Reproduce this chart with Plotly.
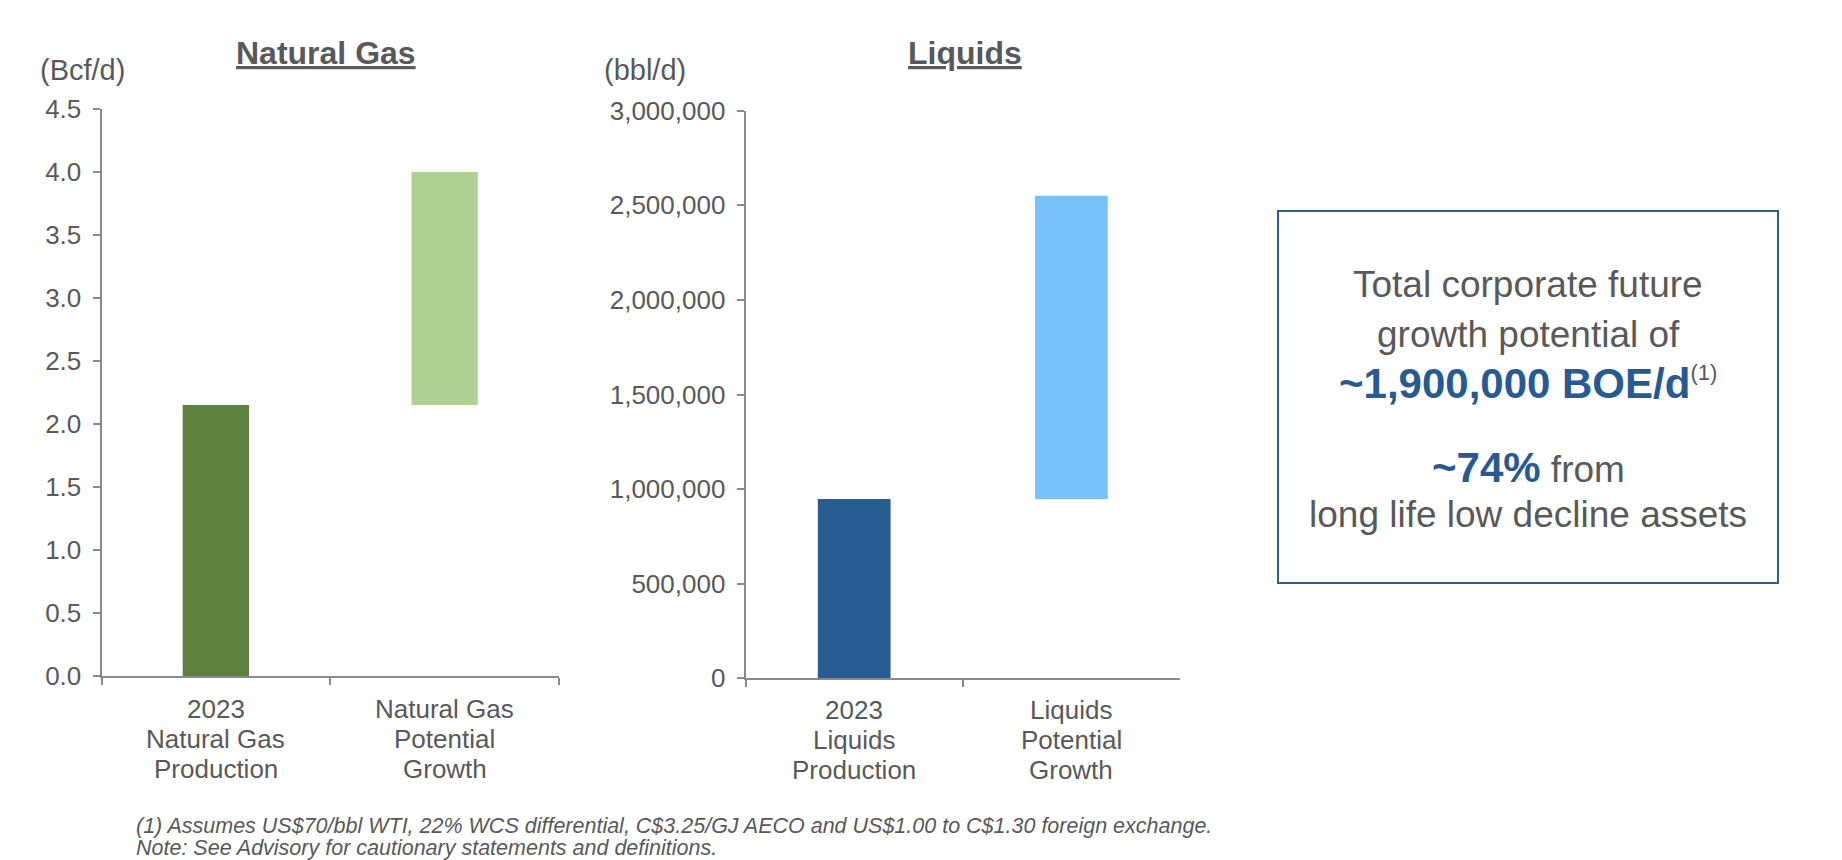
import plotly.graph_objects as go

# ---------------- data ----------------
gas_categories = ["2023<br>Natural Gas<br>Production", "Natural Gas<br>Potential<br>Growth"]
gas_production = 2.15          # Bcf/d (2023)
gas_potential_total = 4.0      # Bcf/d (top of potential growth bar)
gas_ticks = [0.0, 0.5, 1.0, 1.5, 2.0, 2.5, 3.0, 3.5, 4.0, 4.5]

liq_categories = ["2023<br>Liquids<br>Production", "Liquids<br>Potential<br>Growth"]
liq_production = 948000        # bbl/d (2023)
liq_potential_total = 2550000  # bbl/d (top of potential growth bar)
liq_ticks = [0, 500000, 1000000, 1500000, 2000000, 2500000, 3000000]

gas_title = "Natural Gas"
liq_title = "Liquids"
gas_unit = "(Bcf/d)"
liq_unit = "(bbl/d)"

box_lines = [
    "Total corporate future",
    "growth potential of",
    "~1,900,000 BOE/d",
    "~74%",
    "from",
    "long life low decline assets",
]
footnotes = [
    "(1) Assumes US$70/bbl WTI, 22% WCS differential, C$3.25/GJ AECO and US$1.00 to C$1.30 foreign exchange.",
    "Note: See Advisory for cautionary statements and definitions.",
]

# ---------------- style ----------------
W, H = 1842, 860
FONT = "Liberation Sans, Arial, sans-serif"
GRAY = "#595959"
AXIS = "#8a8a8a"
BLUE_TXT = "#285a92"
gas_colors = ["#5e813d", "#b1d094"]
liq_colors = ["#275d93", "#78c1fa"]


def px(x):
    return x / W


def py(y):
    return 1 - y / H


fig = go.Figure()

fig.add_trace(go.Bar(
    x=gas_categories,
    y=[gas_production, gas_potential_total - gas_production],
    base=[0, gas_production],
    marker=dict(color=gas_colors, line=dict(width=0)),
    width=0.29, xaxis="x", yaxis="y", hoverinfo="skip", showlegend=False,
))
fig.add_trace(go.Bar(
    x=liq_categories,
    y=[liq_production, liq_potential_total - liq_production],
    base=[0, liq_production],
    marker=dict(color=liq_colors, line=dict(width=0)),
    width=0.335, xaxis="x2", yaxis="y2", hoverinfo="skip", showlegend=False,
))

xcommon = dict(type="category", range=[-0.5, 1.5], showline=True, linecolor=AXIS, linewidth=2,
               ticks="outside", tickson="boundaries", ticklen=7, tickcolor=AXIS, tickwidth=1.5,
               showticklabels=False, showgrid=False, zeroline=False, fixedrange=True,
               automargin=False)
ycommon = dict(showline=True, linecolor=AXIS, linewidth=2, ticks="outside", ticklen=7,
               tickcolor=AXIS, tickwidth=1.5, showgrid=False, zeroline=False,
               tickfont=dict(family=FONT, size=26, color=GRAY), ticklabelstandoff=6,
               fixedrange=True, automargin=False)

fig.update_layout(
    width=W, height=H, autosize=False,
    margin=dict(l=0, r=0, t=0, b=0, pad=0),
    paper_bgcolor="white", plot_bgcolor="white",
    font=dict(family=FONT, color=GRAY),
    barmode="overlay",
    xaxis=dict(domain=[px(101.5), px(559)], anchor="y", **xcommon),
    yaxis=dict(domain=[py(676), py(109)], anchor="x", range=[0, 4.5],
               tickvals=gas_ticks, tickformat=".1f", **ycommon),
    xaxis2=dict(domain=[px(745.6), px(1180)], anchor="y2", **xcommon),
    yaxis2=dict(domain=[py(678.3), py(110.7)], anchor="x2", range=[0, 3000000],
                tickvals=liq_ticks, tickformat=",d", **ycommon),
)

ann = []
# category labels, one annotation per line
for cats, xref, base_y in [(gas_categories, "x", 717), (liq_categories, "x2", 718)]:
    for c in cats:
        for i, line in enumerate(c.split("<br>")):
            ann.append(dict(x=c, xref=xref, y=py(base_y + 30 * i - 8.5), yref="paper",
                            text=line, showarrow=False, xanchor="center", yanchor="middle",
                            font=dict(family=FONT, size=26, color=GRAY)))

# chart titles
for t, xc in [(gas_title, 326), (liq_title, 965)]:
    ann.append(dict(x=px(xc), y=py(63 - 10.5), xref="paper", yref="paper",
                    text=f"<b><u>{t}</u></b>", showarrow=False, xanchor="center", yanchor="middle",
                    font=dict(family=FONT, size=32, color=GRAY)))
# units
for t, xl in [(gas_unit, 37.5), (liq_unit, 602)]:
    ann.append(dict(x=px(xl), y=py(80 - 9.6), xref="paper", yref="paper",
                    text=t, showarrow=False, xanchor="left", yanchor="middle",
                    font=dict(family=FONT, size=29, color=GRAY)))

# callout box text
BX = px(1528)
ann.append(dict(x=BX, y=py(297 - 12.2), xref="paper", yref="paper", text=box_lines[0],
                showarrow=False, xanchor="center", yanchor="middle",
                font=dict(family=FONT, size=37, color=GRAY)))
ann.append(dict(x=BX, y=py(347 - 12.2), xref="paper", yref="paper", text=box_lines[1],
                showarrow=False, xanchor="center", yanchor="middle",
                font=dict(family=FONT, size=37, color=GRAY)))
ann.append(dict(x=BX, y=py(397 - 13.9), xref="paper", yref="paper",
                text=f"<b>{box_lines[2]}</b><sup><span style='font-size:22px;color:{GRAY}'>(1)</span></sup>",
                showarrow=False, xanchor="center", yanchor="middle",
                font=dict(family=FONT, size=42, color=BLUE_TXT)))
ann.append(dict(x=BX, y=py(482 - 15), xref="paper", yref="paper",
                text=f"<span style='font-size:42px;color:{BLUE_TXT}'><b>{box_lines[3]}</b></span> {box_lines[4]}",
                showarrow=False, xanchor="center", yanchor="middle",
                font=dict(family=FONT, size=37, color=GRAY)))
ann.append(dict(x=BX, y=py(527 - 12.2), xref="paper", yref="paper", text=box_lines[5],
                showarrow=False, xanchor="center", yanchor="middle",
                font=dict(family=FONT, size=37, color=GRAY)))

# footnotes
for i, t in enumerate(footnotes):
    ann.append(dict(x=px(133.5), y=py(826 + 21.5 * i), xref="paper", yref="paper",
                    text=f"<i>{t}</i>", showarrow=False, xanchor="left", yanchor="middle",
                    font=dict(family=FONT, size=21.5, color=GRAY)))

fig.update_layout(annotations=ann)

fig.add_shape(type="rect", xref="paper", yref="paper",
              x0=px(1278), x1=px(1778), y0=py(583), y1=py(211),
              line=dict(color="#2f5f98", width=2), fillcolor="rgba(0,0,0,0)")

fig.write_html(
    "out.html",
    config={"displayModeBar": False},
    post_script="document.body.style.margin='0';document.body.style.overflow='hidden';",
)
